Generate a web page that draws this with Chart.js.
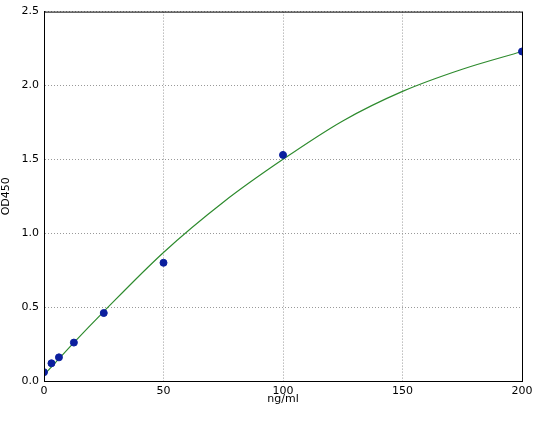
<!DOCTYPE html>
<html><head><script src="https://cdn.jsdelivr.net/npm/chart.js@4"></script>
<style>html,body{margin:0;background:#fff}#w{width:540px;height:424px}</style></head>
<body><div id="w"><canvas id="c"></canvas></div>
<script>
const pointX=[0,3.125,6.25,12.5,25,50,100,200];
const pointY=[0.06,0.12,0.16,0.26,0.46,0.80,1.53,2.23];
const curveX=[0,12.5,25,50,75,100,125,150,175,200];
const curveY=[0.04,0.26,0.47,0.87,1.21,1.50,1.76,1.96,2.11,2.23];
const xTicks=[0,50,100,150,200];
const yTicks=[0,0.5,1.0,1.5,2.0,2.5];
const frame={id:'frame',afterDraw(ch){const a=ch.chartArea,c=ch.ctx;c.save();c.strokeStyle='#000';c.lineWidth=1;c.strokeRect(a.left+0.5,a.top+0.5,a.width,a.height);c.restore();}};
const font={family:'DejaVu Sans',size:11};
new Chart(document.getElementById('c'),{
type:'scatter',
data:{datasets:[
{data:pointX.map((x,i)=>({x,y:pointY[i]})),backgroundColor:'#0b1f9e',borderColor:'#0b1f9e',pointRadius:3.5,order:0},
{data:curveX.map((x,i)=>({x,y:curveY[i]})),showLine:true,borderColor:'#2e8b2e',borderWidth:1.2,pointRadius:0,cubicInterpolationMode:'monotone',order:1}
]},
plugins:[frame],
options:{responsive:true,maintainAspectRatio:false,animation:false,
layout:{padding:{top:11,right:18,left:0,bottom:18}},
plugins:{legend:{display:false},tooltip:{enabled:false}},
scales:{
x:{type:'linear',min:0,max:200,afterBuildTicks:s=>{s.ticks=xTicks.map(v=>({value:v}))},
afterFit:s=>{s.height=25},
grid:{color:'#999',drawTicks:false},border:{dash:[1,2],color:'#000'},
ticks:{color:'#000',font,padding:4},
title:{display:true,text:'ng/ml',color:'#000',font,padding:0}},
y:{min:0,max:2.5,afterBuildTicks:s=>{s.ticks=yTicks.map(v=>({value:v}))},
afterFit:s=>{s.width=44},
grid:{color:'#999',drawTicks:false},border:{dash:[1,2],color:'#000'},
ticks:{color:'#000',font,padding:5,callback:v=>Number(v).toFixed(1)},
title:{display:true,text:'OD450',color:'#000',font,padding:0}}
}}});
</script></body></html>
